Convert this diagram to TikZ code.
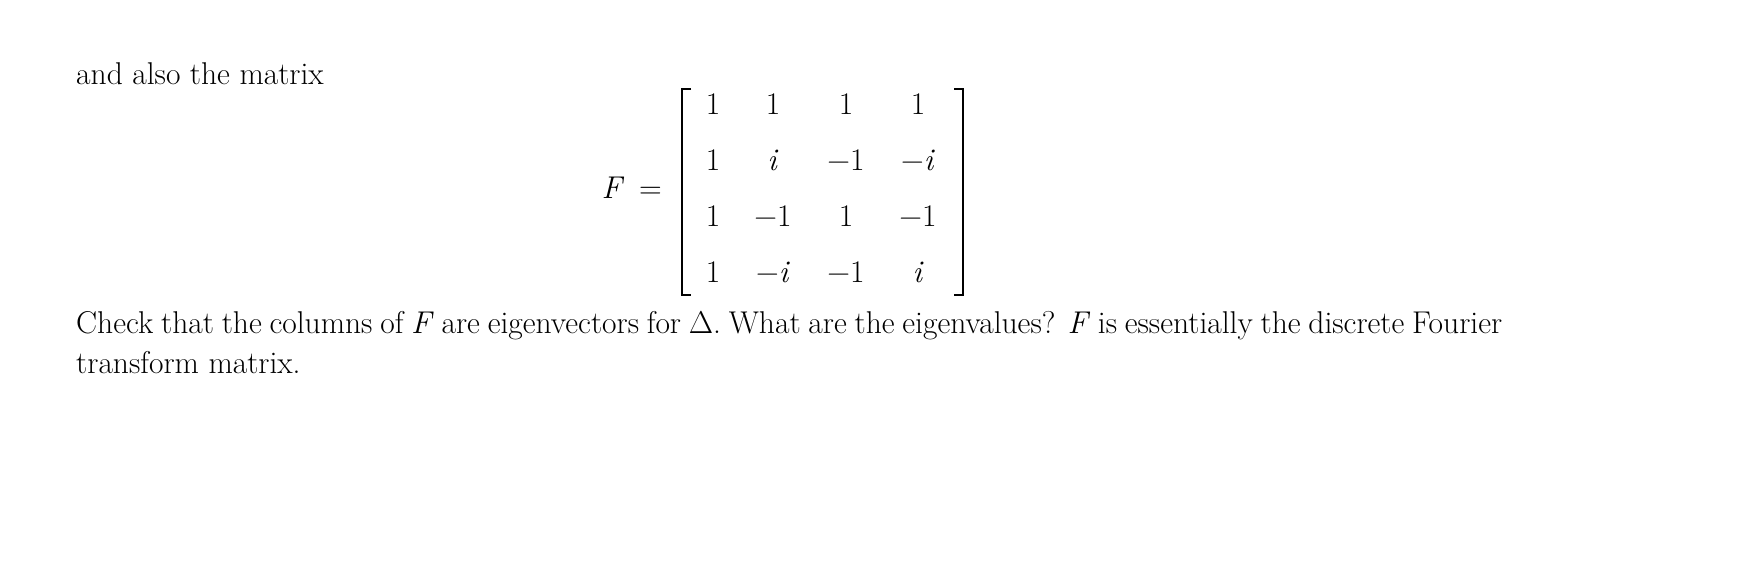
\documentclass[tikz,border=0pt]{standalone}
\usepackage{fontspec}
\newcommand{\mi}[1]{\textit{#1}}
\begin{document}
\begin{tikzpicture}[x=1pt,y=-1pt,
  txt/.style={inner sep=0,anchor=base west,font=\fontsize{31.5}{40}\selectfont},
  ent/.style={inner sep=0,anchor=base,font=\fontsize{31.5}{40}\selectfont},
  brk/.style={line width=2.2pt}]
\useasboundingbox (0,0) rectangle (1760,568);
\node[txt] (t1) at (76,84) {and also the matrix};
\node[ent,anchor=base east] (F) at (662,198) {\mi{F}\, =};
\node[ent] (a11) at (713,114) {1};
\node[ent] (a12) at (773,114) {1};
\node[ent] (a13) at (846,114) {1};
\node[ent] (a14) at (918,114) {1};
\node[ent] (a21) at (713,170) {1};
\node[ent] (a22) at (773,170) {\mi{i}};
\node[ent] (a23) at (846,170) {−1};
\node[ent] (a24) at (918,170) {−\mi{i}};
\node[ent] (a31) at (713,226) {1};
\node[ent] (a32) at (773,226) {−1};
\node[ent] (a33) at (846,226) {1};
\node[ent] (a34) at (918,226) {−1};
\node[ent] (a41) at (713,282) {1};
\node[ent] (a42) at (773,282) {−\mi{i}};
\node[ent] (a43) at (846,282) {−1};
\node[ent] (a44) at (918,282) {\mi{i}};
\draw[brk] (691,89) -- (682,89) -- (682,295) -- (691,295);
\draw[brk] (954,89) -- (963,89) -- (963,295) -- (954,295);
\node[txt,anchor=north west,text width=1426pt,align=justify] (t2) at (76,311)
 {Check that the columns of \mi{F} are eigenvectors for Δ. What are the eigenvalues? \mi{F} is essentially the discrete Fourier transform matrix.};
\end{tikzpicture}
\end{document}
